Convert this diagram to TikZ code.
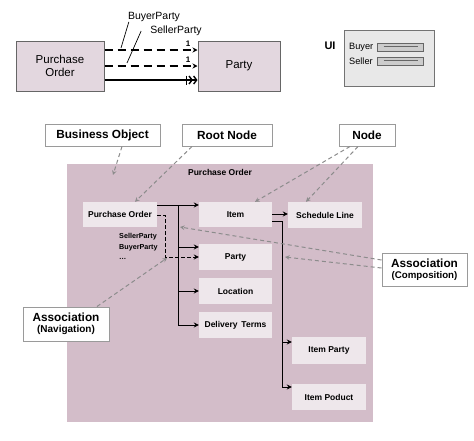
\documentclass[tikz,border=0pt]{standalone}
\usepackage{fontspec}
\setmainfont{Liberation Sans}
\usetikzlibrary{arrows.meta}
\definecolor{bgmauve}{HTML}{D3BDC9}
\definecolor{toppink}{HTML}{E3D7DF}
\definecolor{innerfill}{HTML}{EEE7EB}
\definecolor{uigray}{HTML}{E8E8E8}
\definecolor{fieldgray}{HTML}{CCCCCC}
\definecolor{anngray}{HTML}{8C8C8C}
\definecolor{boxgray}{HTML}{9A9A9A}
\begin{document}
\begin{tikzpicture}[x=1pt,y=-1pt,
  topbox/.style={draw=black!60, line width=1pt, fill=toppink, inner sep=0pt, align=center,
    font=\fontsize{11.5}{13.5}\selectfont},
  lblbox/.style={draw=boxgray, line width=1pt, fill=white, inner sep=0pt, align=center},
  inbox/.style={fill=innerfill, inner sep=0pt, minimum width=74pt, font=\bfseries\fontsize{8.5}{10}\selectfont},
  conn/.style={line width=1pt, -{Stealth[length=5pt,width=5pt]}},
  dconn/.style={conn, dash pattern=on 3.5pt off 2.5pt},
  ann/.style={draw=anngray, line width=1pt, dash pattern=on 4pt off 3pt, -{Stealth[length=4.5pt,width=4.5pt]}},
  topdash/.style={line width=1.6pt, dash pattern=on 8pt off 5pt, -{Stealth[length=5pt,width=5pt]}},
  smalltxt/.style={inner sep=0pt, font=\bfseries\fontsize{7.2}{8}\selectfont},
]
\useasboundingbox (0,0) rectangle (474,440);

% ---------- top part ----------
\node[topbox, minimum width=88pt, minimum height=50pt] (tpo) at (60,66) {Purchase\\Order};
\node[topbox, minimum width=82pt, minimum height=50pt] (tp) at (239,66) {Party};

\draw[topdash] (tpo.east |- 0,50) -- (tp.west |- 0,50);
\draw[topdash] (tpo.east |- 0,66) -- (tp.west |- 0,66);
\draw[line width=1.6pt, -{Bar[width=9pt,line width=1.3pt,sep=1pt]Straight Barb[length=3pt,width=8pt,line width=1.4pt]Straight Barb[length=3pt,width=8pt,line width=1.4pt]}]
  (tpo.east |- 0,80) -- (tp.west |- 0,80);

\node[inner sep=0pt, font=\bfseries\fontsize{8}{9}\selectfont] (one1) at (188,44) {1};
\node[inner sep=0pt, font=\bfseries\fontsize{8}{9}\selectfont] (one2) at (188,60) {1};

\node[inner sep=0pt, font=\fontsize{10.5}{12}\selectfont] (bpl) at (154,17) {BuyerParty};
\node[inner sep=0pt, font=\fontsize{10.5}{12}\selectfont] (spl) at (176,31) {SellerParty};
\coordinate (bpA) at (121,48);
\coordinate (spA) at (127,63);
\draw[line width=0.7pt] ([xshift=1pt]bpl.south west) -- (bpA);
\draw[line width=0.7pt] ([xshift=-9pt]spl.west) -- (spA);

% UI
\node[draw=black!55, line width=1pt, fill=uigray, minimum width=90pt, minimum height=56pt, inner sep=0pt] (ui) at (389,58) {};
\node[inner sep=0pt, font=\bfseries\fontsize{11}{12}\selectfont] (uil) at (330,46) {UI};
\node[anchor=west, inner sep=0pt, font=\fontsize{9.2}{10}\selectfont] (buy) at (349,47) {Buyer};
\node[anchor=west, inner sep=0pt, font=\fontsize{9.2}{10}\selectfont] (sel) at (349,61) {Seller};
\node[draw=black!60, line width=0.7pt, fill=fieldgray, minimum width=46pt, minimum height=8pt, inner sep=0pt] (bf) at (400,47) {};
\node[draw=black!60, line width=0.7pt, fill=fieldgray, minimum width=46pt, minimum height=8pt, inner sep=0pt] (sf) at (400,61) {};
\draw[black!60, line width=0.8pt] ([xshift=7pt,yshift=0.5pt]bf.west) -- ([xshift=-5pt,yshift=0.5pt]bf.east);
\draw[black!60, line width=0.8pt] ([xshift=7pt,yshift=0.5pt]sf.west) -- ([xshift=-5pt,yshift=0.5pt]sf.east);

% ---------- bottom part ----------
\fill[bgmauve] (67,164) rectangle (373,422);
\node[inner sep=0pt, font=\bfseries\fontsize{8.5}{10}\selectfont] (title) at (220,172) {Purchase Order};

\node[inbox, minimum height=25pt] (ipo) at (120,214.5) {Purchase Order};
\node[inbox, minimum width=73pt, minimum height=25pt] (item) at (235.5,214.5) {Item};
\node[inbox, minimum height=26pt] (sl) at (325,215) {Schedule Line};
\node[inbox, minimum width=73pt, minimum height=26pt] (party) at (235.5,257) {Party};
\node[inbox, minimum width=73pt, minimum height=26pt] (loc) at (235.5,291) {Location};
\node[inbox, minimum width=73pt, minimum height=26pt] (dt) at (235.5,325) {Delivery\ \,Terms};
\node[inbox, minimum height=27pt] (ip) at (329,350.5) {Item Party};
\node[inbox, minimum height=26pt] (iprod) at (329,397) {Item Poduct};

\node[smalltxt, anchor=west] (slab) at (119,237) {SellerParty};
\node[smalltxt, anchor=west] (blab) at (119,248) {BuyerParty};
\node[smalltxt, anchor=west] (dots) at (119,259) {\ldots};

% composition tree
\draw[conn] (ipo.east |- 0,205) -- (item.west |- 0,205);
\draw[line width=1pt] (178,205) -- (178,325);
\draw[conn] (178,247) -- (party.west |- 0,247);
\draw[conn] (178,291) -- (loc.west);
\draw[conn] (178,325) -- (dt.west);
\draw[conn] (item.east |- 0,214) -- (sl.west |- 0,214);
\draw[line width=1pt] (item.east |- 0,221) -- (282,221) -- (282,387);
\draw[conn] (282,342) -- (ip.west |- 0,342);
\draw[conn] (282,387) -- (iprod.west |- 0,387);

% navigation
\draw[dconn] (ipo.east |- 0,215) -- (165,215) -- (165,257) -- (party.west);

% annotation boxes
\node[lblbox, minimum width=115pt, minimum height=22pt, font=\bfseries\fontsize{11.8}{13}\selectfont] (bo) at (102.5,135) {Business Object};
\node[lblbox, minimum width=90pt, minimum height=22pt, font=\bfseries\fontsize{11.8}{13}\selectfont] (rn) at (227,135) {Root Node};
\node[lblbox, minimum width=56pt, minimum height=22pt, font=\bfseries\fontsize{11.8}{13}\selectfont] (nd) at (367,135) {Node};
\node[lblbox, minimum width=85pt, minimum height=33pt] (ac) at (424.5,269.5)
  {{\bfseries\fontsize{11.8}{13}\selectfont Association}\\[-1pt]{\bfseries\fontsize{9.7}{11}\selectfont (Composition)}};
\node[lblbox, minimum width=86pt, minimum height=34pt] (an) at (66,324)
  {{\bfseries\fontsize{11.8}{13}\selectfont Association}\\[-1pt]{\bfseries\fontsize{10}{11}\selectfont (Navigation)}};

\coordinate (boT) at (113,175);
\coordinate (acT1) at (180,227);
\coordinate (acT2) at (285,257);
\coordinate (anT) at (167,258);
\draw[ann] (bo.south -| 122,0) -- (boT);
\draw[ann] (rn.south -| 192,0) -- (ipo.north -| 135,0);
\draw[ann] (nd.south -| 350,0) -- (item.north -| 255,0);
\draw[ann] (nd.south -| 358,0) -- (sl.north -| 306,0);
\draw[ann] (ac.west |- 0,260) -- (acT1);
\draw[ann] (ac.west |- 0,268) -- (acT2);
\draw[ann] (an.north -| 97,0) -- (anT);
\end{tikzpicture}
\end{document}
